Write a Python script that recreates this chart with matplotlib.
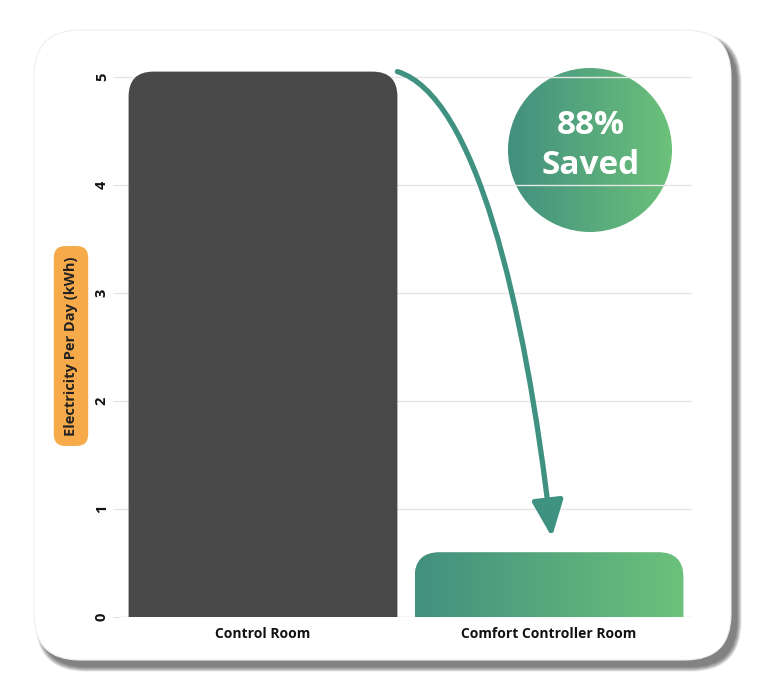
import numpy as np
import matplotlib
matplotlib.use("Agg")
import matplotlib.pyplot as plt
from matplotlib.patches import FancyBboxPatch, Circle, FancyArrowPatch
from matplotlib.path import Path
from matplotlib.colors import LinearSegmentedColormap

rooms = ["Control Room", "Comfort Controller Room"]
kwh_per_day = [5.05, 0.6]
y_ticks = [0, 1, 2, 3, 4, 5]
saved_label = "88%\nSaved"

dark = "#484948"
green_map = LinearSegmentedColormap.from_list("grn", ["#42907f", "#6cc17a"])
arrow_col = "#3f9281"

plt.rcParams["font.family"] = ["Open Sans", "DejaVu Sans"]

W, H = 768, 690
fig = plt.figure(figsize=(W / 100, H / 100), dpi=100)
fig.patch.set_facecolor("white")

# background card in pixel coords
bg = fig.add_axes([0, 0, 1, 1], zorder=0)
bg.set_xlim(0, W)
bg.set_ylim(H, 0)
bg.axis("off")

cx0, cy0, cx1, cy1, rad = 34, 30, 731, 660, 46
# soft shadow, offset to lower right
for i in range(8):
    grow = i * 1.3
    sh = FancyBboxPatch((cx0 + 6 - grow / 2, cy0 + 7 - grow / 2),
                        cx1 - cx0 + grow, cy1 - cy0 + grow,
                        boxstyle=f"round,pad=0,rounding_size={rad + grow / 2}",
                        fc="#2a2a2a", ec="none", alpha=0.10)
    bg.add_patch(sh)
card = FancyBboxPatch((cx0, cy0), cx1 - cx0, cy1 - cy0,
                      boxstyle=f"round,pad=0,rounding_size={rad}",
                      fc="white", ec="#eeeeee", lw=0.8)
bg.add_patch(card)

# y label in orange pill
bg.text(71, 346, "Electricity Per Day (kWh)", rotation=90, ha="center", va="center",
        fontsize=10.5, fontweight="bold", color="#222222",
        bbox=dict(boxstyle="round,pad=0.7,rounding_size=0.8", fc="#f6aa4a", ec="none"))

# main axes
ax = fig.add_axes([120 / W, 1 - 617 / H, (692 - 120) / W, 5.2 * 108 / H], zorder=1)
ax.patch.set_alpha(0)
x = np.arange(len(rooms))
width = 0.94
ax.set_xlim(-0.5, 1.5)
ax.set_ylim(0, 5.2)
for s in ax.spines.values():
    s.set_visible(False)
ax.set_yticks(y_ticks)
ax.set_yticklabels([str(t) for t in y_ticks], rotation=90, va="center",
                   fontsize=10.5, fontweight="bold", color="#111111")
ax.tick_params(axis="y", length=5, color="#e3e3e3", pad=3)
ax.set_xticks(x)
ax.set_xticklabels(rooms, fontsize=10, fontweight="bold", color="#111111")
ax.tick_params(axis="x", length=0, pad=7)
ax.yaxis.grid(True, color="#e6e6e6", lw=1)
ax.set_axisbelow(True)
ax.axhline(0, color="#e6e6e6", lw=1, zorder=0)

fig.canvas.draw()
p0 = ax.transData.transform((0, 0))
p1 = ax.transData.transform((1, 1))
aspect = (p1[0] - p0[0]) / (p1[1] - p0[1])
r_x = 25 / (p1[0] - p0[0])

bars = []
for xi, v in zip(x, kwh_per_day):
    bar = FancyBboxPatch((xi - width / 2, -1), width, v + 1,
                         boxstyle=f"round,pad=0,rounding_size={r_x}",
                         mutation_aspect=aspect, fc=dark, ec="none", zorder=2)
    ax.add_patch(bar)
    bars.append(bar)

# gradient on second bar
bars[1].set_facecolor("none")
grad = np.linspace(0, 1, 256).reshape(1, -1)
im = ax.imshow(grad, cmap=green_map, aspect="auto", zorder=2,
               extent=(x[1] - width / 2, x[1] + width / 2, 0, kwh_per_day[1]))
im.set_clip_path(bars[1])
ax.set_xlim(-0.5, 1.5)
ax.set_ylim(0, 5.2)

# curved arrow from top of first bar to just above the second
start = (x[0] + width / 2, kwh_per_day[0])
c1 = (x[0] + 0.74, kwh_per_day[0] - 0.22)
c2 = (x[0] + 0.915, 2.93)
end = (x[1] + 0.01, kwh_per_day[1] + 0.14)
path = Path([start, c1, c2, end], [Path.MOVETO, Path.CURVE4, Path.CURVE4, Path.CURVE4])
arr = FancyArrowPatch(path=path, arrowstyle="-|>,head_length=22,head_width=9.5",
                      color=arrow_col, lw=3.8, capstyle="round", zorder=4)
ax.add_patch(arr)

# 88% saved badge
badge = Circle((590, 150), 82, fc="none", ec="none")
bg.add_patch(badge)
bim = bg.imshow(grad, cmap=green_map, aspect="auto", extent=(508, 672, 232, 68), zorder=3)
bim.set_clip_path(badge)
bg.text(591, 146, saved_label, ha="center", va="center", color="white",
        fontsize=24, fontweight="bold", linespacing=1.28, zorder=4)
bg.set_xlim(0, W)
bg.set_ylim(H, 0)

fig.savefig("out.png", dpi=100)
